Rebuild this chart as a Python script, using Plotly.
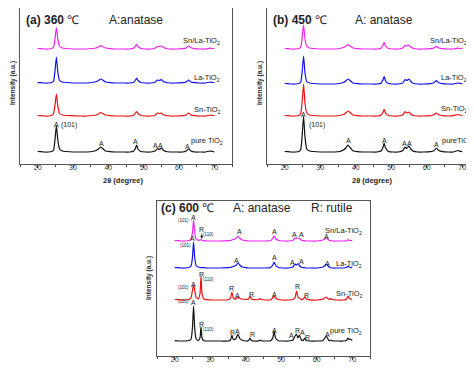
import plotly.graph_objects as go

# ---------------- data ----------------
TWO_THETA_AB = [20, 21, 22, 23, 24, 24.5, 24.9, 25.3, 25.7, 26.2,
                27, 28, 30, 32, 34, 35.5, 36.5, 37.2, 37.8, 38.4,
                39.2, 40.5, 42, 44, 46, 47.2, 47.7, 48.0, 48.4, 49.2,
                50.5, 52, 53.2, 53.9, 54.4, 55.0, 55.5, 56.3, 57.5, 59,
                61, 62.0, 62.7, 63.4, 64.5, 66, 67.5, 68.8, 69.5, 70]

# panel (a) 360 C
A_PURE = [0.5, 0.3, 0.0, 0.0, 0.5, 2.0, 12.0, 26.5, 12.0, 3.0,
          1.0, 0.5, 0.0, 0.0, 0.0, 0.5, 1.5, 3.0, 5.0, 3.5,
          1.0, 0.3, 0.0, 0.0, 0.0, 1.0, 4.0, 7.0, 3.0, 0.5,
          0.0, 0.0, 1.0, 3.5, 2.5, 4.0, 2.0, 0.5, 0.0, 0.0,
          0.0, 1.0, 3.0, 1.0, 0.0, 0.0, 0.0, 1.0, 0.5, 0.2]
A_SN = [0.5, 0.3, 0.0, 0.0, 0.5, 2.5, 11.0, 22.0, 10.0, 2.5,
        1.0, 0.5, 0.3, 0.0, 0.0, 0.5, 1.0, 2.0, 3.5, 2.5,
        1.0, 0.3, 0.0, 0.0, 0.0, 0.8, 3.0, 4.5, 2.5, 0.5,
        0.0, 0.0, 0.8, 3.0, 2.5, 3.0, 1.5, 0.5, 0.0, 0.0,
        0.3, 1.0, 3.0, 1.0, 0.3, 0.0, 0.0, 1.0, 0.5, 0.5]
A_LA = [0.3, 0.3, 0.0, 0.0, 0.5, 2.0, 12.0, 26.0, 11.0, 2.5,
        1.0, 0.5, 0.0, 0.0, 0.0, 0.5, 1.2, 2.5, 4.0, 3.0,
        1.0, 0.3, 0.0, 0.0, 0.0, 0.8, 3.0, 5.0, 2.5, 0.5,
        0.0, 0.0, 0.8, 3.0, 2.5, 3.3, 1.8, 0.5, 0.0, 0.0,
        0.3, 1.0, 3.0, 1.0, 0.3, 0.0, 0.0, 1.0, 0.5, 0.5]
A_SNLA = [0.5, 0.3, 0.0, 0.0, 0.5, 2.0, 10.0, 21.5, 10.0, 2.5,
          1.0, 0.5, 0.0, 0.0, 0.0, 0.5, 1.0, 2.0, 3.3, 2.5,
          1.0, 0.3, 0.0, 0.0, 0.0, 1.0, 3.0, 4.7, 2.5, 0.5,
          0.0, 0.0, 0.8, 2.5, 2.5, 3.0, 2.0, 0.5, 0.0, 0.0,
          0.3, 1.0, 3.0, 1.2, 0.3, 0.0, 0.0, 0.8, 0.5, 0.5]

# panel (b) 450 C
B_PURE = [0.5, 0.3, 0.0, 0.0, 0.5, 2.5, 16.0, 36.0, 15.0, 3.0,
          1.0, 0.5, 0.0, 0.0, 0.0, 0.5, 2.0, 4.0, 7.0, 4.5,
          1.2, 0.3, 0.0, 0.0, 0.0, 1.2, 5.0, 9.0, 4.0, 0.6,
          0.0, 0.0, 1.2, 5.0, 3.5, 6.0, 3.0, 0.6, 0.0, 0.0,
          0.3, 1.2, 4.0, 1.5, 0.3, 0.0, 0.0, 1.5, 0.6, 0.3]
B_SN = [0.5, 0.3, 0.0, 0.0, 0.5, 2.5, 14.0, 32.0, 13.0, 3.0,
        1.0, 0.5, 0.0, 0.0, 0.0, 0.5, 1.5, 3.0, 5.0, 3.5,
        1.0, 0.3, 0.0, 0.0, 0.0, 1.0, 4.0, 6.7, 3.0, 0.5,
        0.0, 0.0, 1.0, 4.3, 3.0, 4.0, 2.0, 0.5, 0.0, 0.0,
        0.3, 1.2, 3.0, 1.2, 0.3, 0.0, 0.3, 1.5, 0.8, 0.5]
B_LA = [0.5, 0.3, 0.0, 0.0, 0.5, 2.0, 12.0, 28.0, 11.0, 2.5,
        1.0, 0.5, 0.0, 0.0, 0.0, 0.5, 1.5, 3.0, 5.0, 3.5,
        1.0, 0.3, 0.0, 0.0, 0.0, 1.0, 4.5, 7.5, 3.0, 0.5,
        0.0, 0.0, 1.0, 4.5, 3.5, 5.0, 2.5, 0.5, 0.0, 0.0,
        0.3, 1.2, 3.3, 1.2, 0.3, 0.0, 0.0, 1.0, 0.5, 0.3]
B_SNLA = [0.5, 0.3, 0.0, 0.0, 0.5, 2.0, 11.0, 24.0, 10.0, 2.5,
          1.0, 0.5, 0.0, 0.0, 0.0, 0.5, 1.5, 2.8, 4.3, 3.0,
          1.0, 0.3, 0.0, 0.0, 0.0, 1.0, 4.0, 6.7, 3.0, 0.5,
          0.0, 0.0, 1.0, 3.7, 3.0, 3.7, 2.0, 0.5, 0.0, 0.0,
          0.3, 1.0, 2.7, 1.0, 0.3, 0.0, 0.0, 0.8, 0.5, 0.3]

TWO_THETA_C = [20, 21, 22, 23, 24, 24.6, 25.0, 25.3, 25.6, 26.0,
               26.6, 27.1, 27.4, 27.7, 28.2, 29, 31, 33, 35, 35.7,
               36.1, 36.5, 37.2, 37.8, 38.3, 39.0, 40.0, 40.8, 41.2, 41.6,
               42.5, 43.6, 44.0, 44.4, 45.5, 47.0, 47.6, 48.0, 48.4, 49.2,
               50.5, 52, 53.3, 53.9, 54.3, 54.7, 55.1, 55.6, 56.2, 56.6,
               57.0, 58, 60, 61.8, 62.7, 63.3, 63.7, 64.0, 64.4, 66,
               67.5, 68.4, 68.8, 69.1, 69.5, 70]

# panel (c) 600 C
C_PURE = [0.3, 0.0, 0.0, 0.0, 0.5, 2.0, 14.0, 35.0, 14.0, 2.5,
          0.5, 3.0, 14.0, 3.0, 0.3, 0.0, 0.0, 0.0, 0.0, 1.0,
          6.0, 1.5, 2.0, 7.0, 2.5, 0.8, 0.0, 0.5, 3.0, 0.5,
          0.0, 0.2, 1.0, 0.2, 0.0, 0.3, 3.0, 10.0, 3.0, 0.3,
          0.0, 0.0, 1.0, 5.0, 7.0, 3.0, 6.0, 1.5, 0.5, 3.0,
          0.5, 0.0, 0.0, 0.5, 5.0, 1.0, 0.3, 1.0, 0.2, 0.0,
          0.0, 0.5, 3.0, 1.5, 2.0, 0.3]
C_SN = [0.5, 0.3, 0.0, 0.0, 0.5, 2.5, 10.0, 15.0, 10.0, 3.0,
        1.0, 6.0, 24.0, 6.0, 1.0, 0.3, 0.0, 0.0, 0.3, 2.0,
        8.0, 2.0, 1.0, 3.0, 1.5, 1.0, 0.5, 1.0, 4.0, 1.0,
        0.3, 0.5, 1.5, 0.5, 0.0, 0.3, 2.0, 4.0, 2.0, 0.5,
        0.0, 0.0, 0.5, 2.5, 9.0, 3.0, 2.0, 0.5, 1.0, 3.0,
        1.0, 0.2, 0.0, 1.0, 3.0, 1.0, 0.5, 1.5, 0.5, 0.0,
        0.0, 1.0, 4.0, 2.0, 1.0, 0.5]
C_LA = [0.3, 0.3, 0.0, 0.0, 0.5, 2.0, 11.0, 26.0, 11.0, 2.5,
        1.0, 0.5, 0.3, 0.3, 0.3, 0.0, 0.0, 0.0, 0.3, 0.5,
        1.0, 1.5, 2.5, 5.0, 3.0, 1.0, 0.3, 0.0, 0.0, 0.0,
        0.0, 0.0, 0.0, 0.0, 0.0, 0.5, 3.0, 6.0, 3.0, 0.5,
        0.0, 0.0, 1.0, 4.0, 3.0, 4.5, 2.5, 1.0, 0.3, 0.3,
        0.0, 0.0, 0.0, 1.0, 4.0, 1.5, 0.5, 0.3, 0.0, 0.0,
        0.0, 0.5, 2.0, 1.0, 0.5, 0.3]
C_SNLA = [0.5, 0.3, 0.0, 0.0, 0.5, 2.0, 9.0, 21.0, 9.0, 2.0,
          0.8, 0.8, 1.5, 0.8, 0.3, 0.0, 0.0, 0.0, 0.3, 0.5,
          1.0, 1.5, 2.5, 5.0, 3.0, 1.0, 0.3, 0.0, 0.0, 0.0,
          0.0, 0.0, 0.0, 0.0, 0.0, 0.5, 2.5, 5.0, 2.5, 0.5,
          0.0, 0.0, 0.8, 3.0, 2.5, 3.0, 2.5, 1.0, 0.3, 0.3,
          0.0, 0.0, 0.0, 1.0, 3.0, 1.2, 0.5, 0.3, 0.0, 0.0,
          0.0, 0.3, 1.5, 0.8, 0.5, 0.3]

SAMPLES = ["pure TiO2", "Sn-TiO2", "La-TiO2", "Sn/La-TiO2"]
OFFSETS_A = [12, 48, 81, 115]
OFFSETS_B = [12, 48, 80, 115]
OFFSETS_C = [15, 56, 88, 115]
TICKS = [20, 30, 40, 50, 60, 70]

COLORS = ["#111111", "#ee1111", "#1111ee", "#ee22ee"]
FONT = "Arial, Liberation Sans, sans-serif"
TXT = "#222222"

fig = go.Figure()

panels = [
    ("x", "y", TWO_THETA_AB, [A_PURE, A_SN, A_LA, A_SNLA], OFFSETS_A),
    ("x2", "y2", TWO_THETA_AB, [B_PURE, B_SN, B_LA, B_SNLA], OFFSETS_B),
    ("x3", "y3", TWO_THETA_C, [C_PURE, C_SN, C_LA, C_SNLA], OFFSETS_C),
]
for xa, ya, xs, series, offs in panels:
    for name, ys, off, col in zip(SAMPLES, series, offs, COLORS):
        fig.add_trace(go.Scatter(
            x=xs, y=[v + off for v in ys], mode="lines", name=name,
            xaxis=xa, yaxis=ya, showlegend=False, hoverinfo="skip",
            line=dict(color=col, width=1.2, shape="spline", smoothing=0.5)))

anns = []


def txt(ax, x, y, text, size=7, xanchor="center", yanchor="middle", color=TXT):
    anns.append(dict(xref=ax[0], yref=ax[1], x=x, y=y, text=text, showarrow=False,
                     xanchor=xanchor, yanchor=yanchor,
                     font=dict(family=FONT, size=size, color=color)))


AXA, AXB, AXC = ("x", "y"), ("x2", "y2"), ("x3", "y3")

# titles
txt(AXA, 16.1, 144, "<b>(a) 360</b> ℃", 12, "left")
txt(AXA, 39.7, 144, "A:anatase", 12, "left")
txt(AXB, 16.1, 144, "<b>(b) 450</b> ℃", 12, "left")
txt(AXB, 39.1, 144, "A: anatase", 12, "left")
txt(AXC, 15.6, 148, "<b>(c) 600</b> ℃", 12, "left")
txt(AXC, 35.8, 148, "A: anatase", 12, "left")
txt(AXC, 57.9, 148, "R: rutile", 12, "left")

# sample labels
txt(AXA, 72.3, 123, "Sn/La-TiO<sub>2</sub>", 7.5, "right")
txt(AXA, 72.3, 86, "La-TiO<sub>2</sub>", 7.5, "right")
txt(AXA, 72.3, 54, "Sn-TiO<sub>2</sub>", 7.5, "right")
txt(AXA, 73.0, 23, "pure TiO<sub>2</sub>", 7.5, "right")
txt(AXB, 71.8, 123, "Sn/La-TiO<sub>2</sub>", 7.5, "right")
txt(AXB, 71.8, 86, "La-TiO<sub>2</sub>", 7.5, "right")
txt(AXB, 71.8, 55, "Sn-TiO<sub>2</sub>", 7.5, "right")
txt(AXB, 73.4, 23, "pureTiO<sub>2</sub>", 7.5, "right")
txt(AXC, 73.4, 125, "Sn/La-TiO<sub>2</sub>", 7.5, "right")
txt(AXC, 73.2, 92, "La-TiO<sub>2</sub>", 7.5, "right")
txt(AXC, 73.2, 62, "Sn-TiO<sub>2</sub>", 7.5, "right")
txt(AXC, 73.2, 25, "pure TiO<sub>2</sub>", 7.5, "right")

# peak labels (a)
txt(AXA, 25.3, 40, "A")
txt(AXA, 25.9, 39, "(101)", 7, "left")
for x, y in [(38.0, 21), (47.8, 23), (53.3, 19), (54.9, 19), (62.4, 18)]:
    txt(AXA, x, y, "A")
# peak labels (b)
txt(AXB, 25.3, 50, "A")
txt(AXB, 26.2, 39, "(101)", 7, "left")
for x, y in [(38.0, 24), (48.1, 24), (53.8, 21), (55.1, 21), (62.7, 20)]:
    txt(AXB, x, y, "A")
# peak labels (c)
SMALL = 4.5
txt(AXC, 25.4, 139, "A")
txt(AXC, 22.5, 136, "(101)", SMALL)
txt(AXC, 27.6, 127, "R")
txt(AXC, 29.4, 122, "(110)", SMALL)
txt(AXC, 25.1, 118, "A")
txt(AXC, 23.1, 111, "(101)", SMALL)
for x, y in [(38.1, 125), (48.0, 125), (53.6, 122), (55.6, 122), (62.7, 120),
             (37.5, 96), (48.0, 99), (53.3, 94), (55.6, 95), (62.9, 93)]:
    txt(AXC, x, y, "A")
txt(AXC, 22.5, 69, "(101)", SMALL)
txt(AXC, 25.4, 72, "A")
txt(AXC, 27.6, 82, "R")
txt(AXC, 29.4, 77, "(110)", SMALL)
for x, y, t in [(36.1, 68, "R"), (37.8, 61, "A"), (41.5, 62, "R"), (48.2, 62, "A"),
                (54.7, 70, "R"), (57.0, 61, "R")]:
    txt(AXC, x, y, t)
txt(AXC, 22.5, 55, "(101)", SMALL)
txt(AXC, 25.4, 54, "A")
txt(AXC, 27.6, 32, "R")
txt(AXC, 29.6, 27, "(110)", SMALL)
for x, y, t in [(36.4, 24, "R"), (37.8, 25, "A"), (41.8, 22, "R"), (48.2, 26, "A"),
                (52.8, 21, "A"), (54.5, 26, "R"), (55.9, 24, "A"), (57.3, 19, "R"),
                (62.9, 22, "A")]:
    txt(AXC, x, y, t)
# small arrow for rutile (110) in Sn/La-TiO2
anns.append(dict(xref="x3", yref="y3", x=27.6, y=117, ax=0, ay=-7, text="",
                 showarrow=True, arrowhead=2, arrowsize=0.8, arrowwidth=0.8,
                 arrowcolor=TXT))

# axis titles
def axis_title(x, y, text, size, angle=0):
    anns.append(dict(xref="paper", yref="paper", x=x, y=y, text=text, showarrow=False,
                     textangle=angle, xanchor="center", yanchor="middle",
                     font=dict(family=FONT, size=size, color=TXT)))

W, H = 474, 368
axis_title(115 / W, 1 - 172 / H, "<b>2θ (degree)</b>", 7.5)
axis_title(364 / W, 1 - 172 / H, "<b>2θ (degree)</b>", 7.5)
axis_title(254 / W, 1 - 362 / H, "<b>2θ (degree)</b>", 7.5)
axis_title(5 / W, 1 - 75 / H, "<b>Intensity (a.u.)</b>", 6.5, -90)
axis_title(252 / W, 1 - 75 / H, "<b>Intensity (a.u.)</b>", 6.5, -90)
axis_title(141 / W, 1 - 270 / H, "<b>Intensity (a.u.)</b>", 6.5, -90)

xcommon = dict(range=[15, 75], tickvals=TICKS, ticks="outside", ticklen=3,
               tickwidth=0.8, tickcolor="#444", showline=True, linecolor="#555",
               linewidth=1, mirror=True, showgrid=False, zeroline=False,
               ticklabelstandoff=-6,
               tickfont=dict(family=FONT, size=7, color="#333"),
               minor=dict(dtick=5, tick0=15, ticks="outside", ticklen=2,
                          tickcolor="#444", showgrid=False))
ycommon = dict(showline=True, linecolor="#555", linewidth=1, mirror=True,
               showgrid=False, zeroline=False, showticklabels=False, ticks="")

fig.update_layout(
    width=W, height=H, margin=dict(l=0, r=0, t=0, b=0),
    paper_bgcolor="white", plot_bgcolor="white",
    xaxis=dict(xcommon, domain=[12 / W, 224 / W], anchor="y"),
    yaxis=dict(ycommon, domain=[1 - 156 / H, 1.0], range=[0, 156], anchor="x"),
    xaxis2=dict(xcommon, domain=[259 / W, 472 / W], anchor="y2"),
    yaxis2=dict(ycommon, domain=[1 - 156 / H, 1.0], range=[0, 156], anchor="x2"),
    xaxis3=dict(xcommon, domain=[149 / W, 362 / W], anchor="y3"),
    yaxis3=dict(ycommon, domain=[1 - 348 / H, 1 - 193 / H], range=[0, 155], anchor="x3"),
    annotations=anns,
)

fig.write_html("out.html")
